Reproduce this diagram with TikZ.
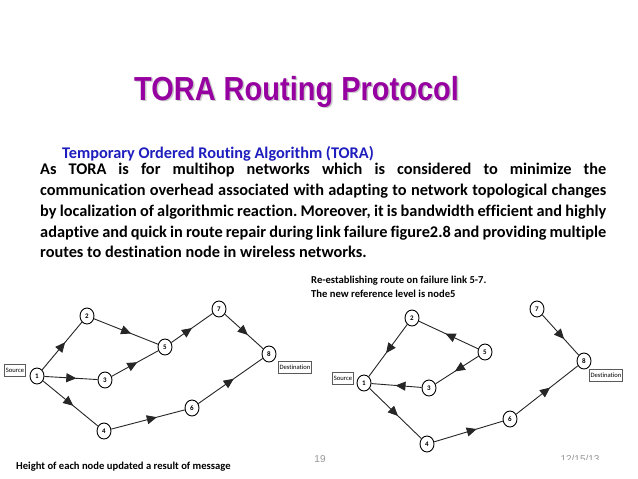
\documentclass[tikz,border=0pt]{standalone}
\usepackage{fontspec}
\setmainfont{Carlito}[Ligatures=NoCommon]
\newfontfamily\arialfont{Liberation Sans}
\usetikzlibrary{arrows.meta,decorations.markings,shapes.geometric}
\frenchspacing
\definecolor{titlepurple}{RGB}{150,0,160}
\definecolor{titleshadow}{RGB}{200,200,200}
\definecolor{subblue}{RGB}{30,30,190}
\definecolor{pagegrey}{RGB}{150,150,150}
\definecolor{boxgrey}{RGB}{90,90,90}
\tikzset{
  gnode/.style={draw, ellipse, line width=0.9pt, minimum width=14pt, minimum height=16pt, inner sep=0pt, font=\bfseries\fontsize{7}{8}\selectfont},
  lbox/.style={draw=boxgrey, line width=1pt, inner sep=1.5pt, minimum height=12pt, font=\fontsize{6.6}{7}\selectfont},
  link/.style={line width=0.9pt, draw=black!85},
  midarrow/.style={postaction={decorate, decoration={markings, mark=at position #1 with {\arrow{Triangle[length=10pt,width=9pt]}}}}},
  midarrow/.default=0.55,
  bodyline/.style={anchor=base west, inner sep=0pt, font=\bfseries\fontsize{16.3}{21}\selectfont},
  caption/.style={anchor=base west, inner sep=0pt, font=\bfseries\fontsize{10.6}{12}\selectfont}
}
\begin{document}
\frenchspacing
\begin{tikzpicture}[x=1pt, y=-1pt]
\useasboundingbox (0,0) rectangle (638,479);
\fill[white] (0,0) rectangle (638,479);

% title
\node[anchor=base, inner sep=0pt, text=titleshadow] (titleshadow) at (298,101.5)
  {\scalebox{1}[1.15]{\arialfont\bfseries\fontsize{29}{33}\selectfont TORA Routing Protocol}};
\node[anchor=base, inner sep=0pt, text=titlepurple] (title) at (296.5,100)
  {\scalebox{1}[1.15]{\arialfont\bfseries\fontsize{29}{33}\selectfont TORA Routing Protocol}};

% subtitle and body
\node[anchor=base west, inner sep=0pt, text=subblue, font=\bfseries\fontsize{16.3}{18}\selectfont] (subtitle) at (62,158)
  {Temporary Ordered Routing Algorithm (TORA)};
\node[bodyline] (line1) at (40,174) {\makebox[566pt][s]{As TORA is for multihop networks which is considered to minimize the}};
\node[bodyline] (line2) at (40,195) {\makebox[566pt][s]{communication overhead associated with adapting to network topological changes}};
\node[bodyline] (line3) at (40,216) {\makebox[566pt][s]{by localization of algorithmic reaction. Moreover, it is bandwidth efficient and highly}};
\node[bodyline] (line4) at (40,237) {\makebox[566pt][s]{adaptive and quick in route repair during link failure figure2.8 and providing multiple}};
\node[bodyline] (line5) at (40,257) {routes to destination node in wireless networks.};

% right captions
\node[caption] (cap1) at (311,283) {Re-establishing route on failure link 5-7.};
\node[caption] (cap2) at (311,297) {The new reference level is node5};

% ---------- left graph ----------
\node[gnode] (l1) at (37,376) {1};
\node[gnode] (l2) at (87,316) {2};
\node[gnode] (l3) at (105,380) {3};
\node[gnode] (l4) at (104,431) {4};
\node[gnode] (l5) at (165,347) {5};
\node[gnode] (l6) at (192,408) {6};
\node[gnode] (l7) at (219,309) {7};
\node[gnode] (l8) at (269,354) {8};
\node[lbox] (lsrc) at (15,370) {Source};
\node[lbox] (ldst) at (295,367) {Destination};

\draw[link, midarrow=0.58] (l1) -- (l2);
\draw[link, midarrow=0.58] (l2) -- (l5);
\draw[link, midarrow=0.5] (l5) -- (l7);
\draw[link, midarrow=0.6] (l7) -- (l8);
\draw[link, midarrow=0.6] (l1) -- (l3);
\draw[link, midarrow=0.55] (l3) -- (l5);
\draw[link, midarrow=0.55] (l1) -- (l4);
\draw[link, midarrow=0.62] (l4) -- (l6);
\draw[link, midarrow=0.55] (l6) -- (l8);

% ---------- right graph ----------
\node[gnode] (r1) at (364,383) {1};
\node[gnode] (r2) at (412,318) {2};
\node[gnode] (r3) at (429,388) {3};
\node[gnode] (r4) at (427,444) {4};
\node[gnode] (r5) at (485,352) {5};
\node[gnode] (r6) at (510,419) {6};
\node[gnode] (r7) at (537,309) {7};
\node[gnode] (r8) at (584,361) {8};
\node[lbox] (rsrc) at (343,378) {Source};
\node[lbox] (rdst) at (606,375) {Destination};

\draw[link, midarrow=0.55] (r2) -- (r1);
\draw[link, midarrow=0.55] (r5) -- (r2);
\draw[link, midarrow=0.55] (r5) -- (r3);
\draw[link, midarrow=0.52] (r3) -- (r1);
\draw[link, midarrow=0.55] (r1) -- (r4);
\draw[link, midarrow=0.62] (r4) -- (r6);
\draw[link, midarrow=0.55] (r6) -- (r8);
\draw[link, midarrow=0.6] (r7) -- (r8);

% footer
\node[anchor=base west, inner sep=0pt, font=\bfseries\fontsize{10.6}{12}\selectfont] (footer) at (16,469)
  {Height of each node updated a result of message};
\node[anchor=base, inner sep=0pt, text=pagegrey, font=\arialfont\fontsize{10}{12}\selectfont] (pagenum) at (320,462) {19};
\node[anchor=base, inner sep=0pt, text=pagegrey, font=\arialfont\fontsize{10}{12}\selectfont] (date) at (580,462) {12/15/13};
\fill[white] (555,459.5) rectangle (610,466);
\end{tikzpicture}
\end{document}
